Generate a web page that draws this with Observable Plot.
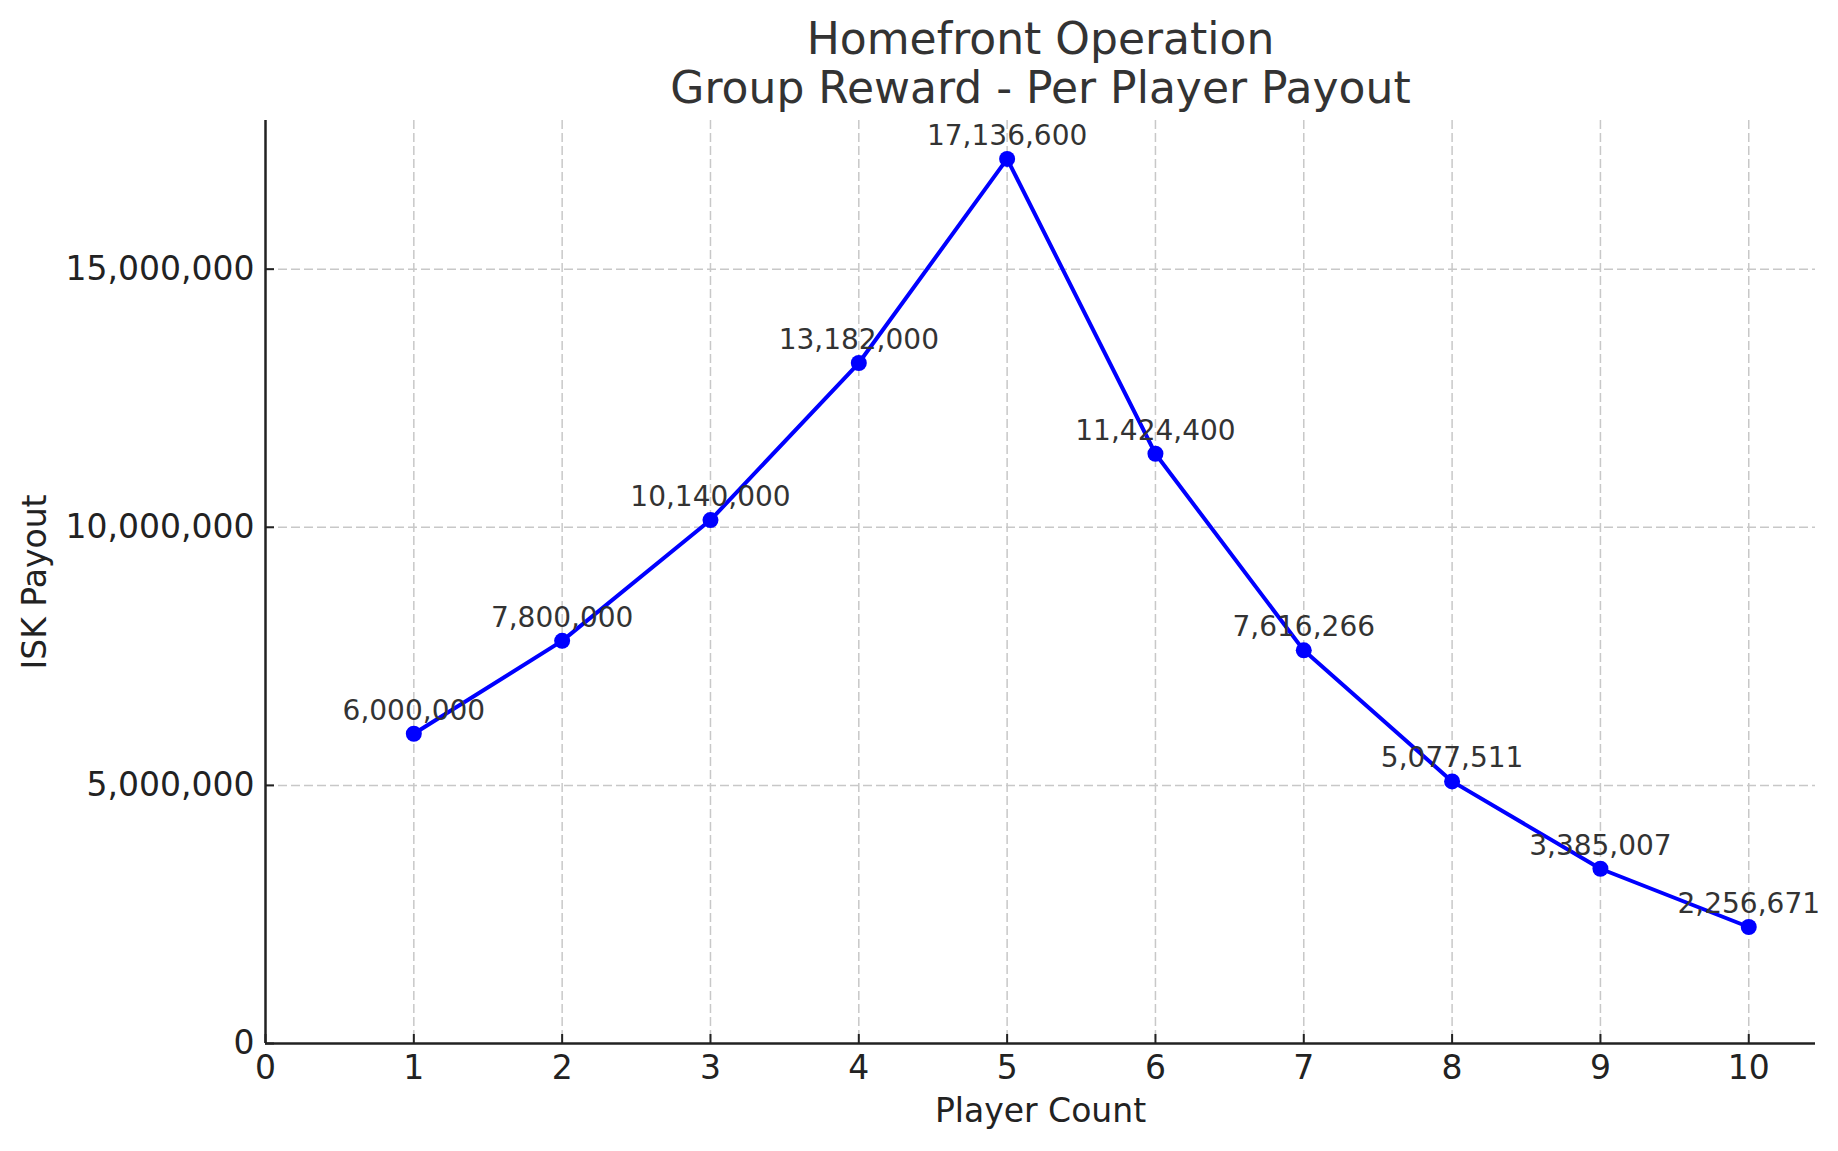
<!DOCTYPE html>
<html>
<head>
<meta charset="utf-8">
<script src="https://cdn.jsdelivr.net/npm/d3@7"></script>
<script src="https://cdn.jsdelivr.net/npm/@observablehq/plot@0.6"></script>
<style>
  html, body { margin: 0; padding: 0; background: #fff; }
  svg { display: block; }
</style>
</head>
<body>
<div id="chart"></div>
<script>
const players = [1, 2, 3, 4, 5, 6, 7, 8, 9, 10];
const payouts = [6000000, 7800000, 10140000, 13182000, 17136600, 11424400, 7616266, 5077511, 3385007, 2256671];
const xTicks = [0, 1, 2, 3, 4, 5, 6, 7, 8, 9, 10];
const yTicks = [0, 5000000, 10000000, 15000000];
const titleLines = ["Homefront Operation", "Group Reward - Per Player Payout"];
const xLabel = "Player Count";
const yLabel = "ISK Payout";

const data = players.map((p, i) => ({player: p, payout: payouts[i]}));
const fmt = d3.format(",");

const W = 1838, H = 1151;
const mL = 265, mR = 23, mT = 120, mB = 108;
const innerW = W - mL - mR, innerH = H - mT - mB;
const font = "DejaVu Sans, sans-serif";

const chart = Plot.plot({
  width: W,
  height: H,
  marginLeft: mL,
  marginRight: mR,
  marginTop: mT,
  marginBottom: mB,
  style: {fontFamily: font, background: "#fff", color: "#222"},
  x: {domain: [0, 10.45]},
  y: {domain: [0, 17.88e6]},
  marks: [
    Plot.gridX(xTicks.slice(1), {stroke: "#c8c8c8", strokeOpacity: 1, strokeWidth: 1.5, strokeDasharray: "9,4"}),
    Plot.gridY(yTicks.slice(1), {stroke: "#c8c8c8", strokeOpacity: 1, strokeWidth: 1.5, strokeDasharray: "9,4"}),
    Plot.tickX(xTicks, {x: d => d, insetTop: innerH - 9, stroke: "#222", strokeWidth: 2}),
    Plot.tickY(yTicks, {y: d => d, insetRight: innerW - 9, stroke: "#222", strokeWidth: 2}),
    Plot.axisX(xTicks, {tickSize: 0, tickPadding: 12, fontSize: 33, fill: "#222", label: null, tickFormat: d => String(d)}),
    Plot.axisY(yTicks, {tickSize: 0, tickPadding: 11, fontSize: 33, fill: "#222", label: null, tickFormat: fmt}),
    Plot.ruleX([0], {stroke: "#222", strokeWidth: 2.5}),
    Plot.ruleY([0], {stroke: "#222", strokeWidth: 2.5}),
    Plot.line(data, {x: "player", y: "payout", stroke: "#0000ff", strokeWidth: 4}),
    Plot.dot(data, {x: "player", y: "payout", r: 8, fill: "#0000ff", stroke: "none"}),
    Plot.text(data, {x: "player", y: "payout", text: d => fmt(d.payout), dy: -23, fontSize: 28, fill: "#333"}),
    Plot.text([xLabel], {text: d => d, frameAnchor: "bottom", lineAnchor: "middle", dy: 68, fontSize: 33, fill: "#222"}),
    Plot.text([yLabel], {text: d => d, frameAnchor: "left", textAnchor: "middle", lineAnchor: "middle", dx: -230, rotate: -90, fontSize: 33, fill: "#222"}),
    Plot.text([titleLines[0]], {text: d => d, frameAnchor: "top", lineAnchor: "middle", dy: -81, fontSize: 44, fill: "#333"}),
    Plot.text([titleLines[1]], {text: d => d, frameAnchor: "top", lineAnchor: "middle", dy: -32, fontSize: 44, fill: "#333"})
  ]
});
document.getElementById("chart").appendChild(chart);
</script>
</body>
</html>
